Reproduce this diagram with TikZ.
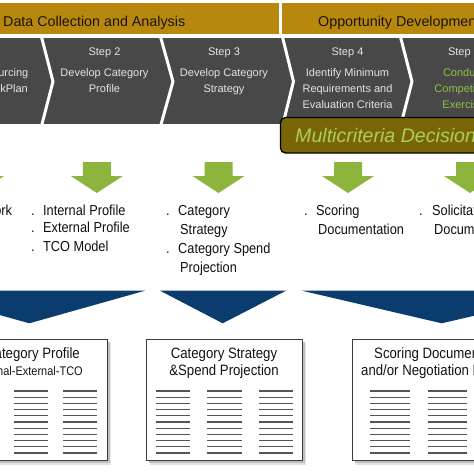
\documentclass[tikz,border=0pt]{standalone}
\usepackage{fontspec}
\setmainfont{Liberation Sans}
\newfontfamily\condfont[FakeStretch=0.88]{Liberation Sans}
\definecolor{gold}{RGB}{184,136,14}
\definecolor{chev}{RGB}{72,72,72}
\definecolor{olivebox}{RGB}{122,100,8}
\definecolor{mcgreen}{RGB}{170,208,88}
\definecolor{stepgreen}{RGB}{140,196,70}
\definecolor{agreen}{RGB}{141,180,60}
\definecolor{navy}{RGB}{10,61,110}
\definecolor{steptext}{RGB}{228,228,228}
\definecolor{docline}{RGB}{85,85,85}
\tikzset{
  bandtxt/.style={font=\fontsize{14.3}{16}\selectfont, text={rgb,255:red,25;green,20;blue,10}, inner sep=0, anchor=base west},
  steptxt/.style={font=\fontsize{11}{13}\selectfont, text=steptext, inner sep=0, anchor=base},
  stepgtxt/.style={steptxt, text=stepgreen},
  divider/.style={white, line width=3pt, line join=miter},
  greenarrow/.style={fill=agreen},
  bultxt/.style={font=\condfont\fontsize{14.5}{17}\selectfont, text={rgb,255:red,15;green,15;blue,15}, inner sep=0, anchor=base west},
  titletxt/.style={font=\condfont\fontsize{15}{17}\selectfont, text={rgb,255:red,20;green,20;blue,20}, inner sep=0, anchor=base},
  subtitletxt/.style={font=\condfont\fontsize{12.5}{14}\selectfont, text={rgb,255:red,20;green,20;blue,20}, inner sep=0, anchor=base},
  docbox/.style={fill=white, draw={rgb,255:red,60;green,60;blue,60}, line width=1pt},
  docln/.style={draw=docline, line width=1.3pt},
  mctxt/.style={font=\itshape\fontsize{19.6}{21}\selectfont, text=mcgreen, inner sep=0, anchor=base west}
}
\begin{document}
\begin{tikzpicture}[x=1pt,y=-1pt]
\useasboundingbox (0,0) rectangle (474,474);
\clip (0,0) rectangle (474,474);
\fill[white] (0,0) rectangle (474,474);

% phase bands
\fill[gold] (-5,3) rectangle (278.5,34);
\fill[gold] (281.5,3) rectangle (480,34);
\node[bandtxt] (dca) at (3,26.5) {Data Collection and Analysis};
\node[bandtxt] (opd) at (318,26.5) {Opportunity Development};

% step chevrons
\fill[chev] (-5,38) rectangle (480,124);
\foreach \a/\b in {41/53,160/173,282/293.5,400/412}
  \draw[divider] (\a,35) -- (\b,81.5) -- (\a,128);

% step 1 (partial)
\node[steptxt, anchor=base east] (s1a) at (28.5,76.8) {Sourcing};
\node[steptxt, anchor=base east] (s1b) at (28,92.5) {WorkPlan};
% step 2
\node[steptxt] (s2) at (104.5,55) {Step 2};
\node[steptxt] (s2a) at (104.5,76.8) {Develop Category};
\node[steptxt] (s2b) at (104.5,92.2) {Profile};
% step 3
\node[steptxt] (s3) at (224,55) {Step 3};
\node[steptxt] (s3a) at (224,76.8) {Develop Category};
\node[steptxt] (s3b) at (224,92.2) {Strategy};
% step 4
\node[steptxt] (s4) at (347.5,55) {Step 4};
\node[steptxt] (s4a) at (347.5,76.8) {Identify Minimum};
\node[steptxt] (s4b) at (347.5,92.6) {Requirements and};
\node[steptxt] (s4c) at (347.5,108.3) {Evaluation Criteria};
% step 5
\node[steptxt] (s5) at (464,55) {Step 5};
\node[stepgtxt] (s5a) at (463.5,76.8) {Conduct};
\node[stepgtxt] (s5b) at (463.5,92.6) {Competitive};
\node[stepgtxt] (s5c) at (463.5,108.3) {Exercise};

% multicriteria box
\draw[fill=olivebox, line width=1.3pt, rounded corners=5pt] (280.5,117.5) rectangle (540,153);
\node[mctxt] (mc) at (295,142) {Multicriteria Decision Analysis};

% green arrows
\foreach \c in {-22,96.8,218.5,348,470}
  \fill[greenarrow] (\c-14,162) -- (\c+14,162) -- (\c+14,176) -- (\c+26,176)
     -- (\c,193) -- (\c-26,176) -- (\c-14,176) -- cycle;

% deliverables
\node[bultxt, anchor=base east] (d1) at (12.3,215) {Framework};

\node[bultxt] (b2a) at (31,215) {.};
\node[bultxt] (t2a) at (43,215) {Internal Profile};
\node[bultxt] (b2b) at (31,232.5) {.};
\node[bultxt] (t2b) at (43,232.5) {External Profile};
\node[bultxt] (b2c) at (31,251) {.};
\node[bultxt] (t2c) at (43,251) {TCO Model};

\node[bultxt] (b3a) at (166,215) {.};
\node[bultxt] (t3a) at (178,215) {Category};
\node[bultxt] (t3b) at (180,234) {Strategy};
\node[bultxt] (b3c) at (166,253) {.};
\node[bultxt] (t3c) at (178,253) {Category Spend};
\node[bultxt] (t3d) at (180,272) {Projection};

\node[bultxt] (b4a) at (304,215) {.};
\node[bultxt] (t4a) at (316,215) {Scoring};
\node[bultxt] (t4b) at (318,234) {Documentation};

\node[bultxt] (b5a) at (419,215) {.};
\node[bultxt] (t5a) at (432,215) {Solicitation};
\node[bultxt] (t5b) at (434,234) {Documents};

% blue chevrons
\fill[navy] (-87,290.7) -- (145,290.7) -- (29.3,323.3) -- cycle;
\fill[navy] (160,290.7) -- (286,290.7) -- (222.7,323.3) -- cycle;
\fill[navy] (302,290.7) -- (582,290.7) -- (441.7,323.3) -- cycle;

% document boxes
\foreach \l/\r in {-49/107,146/302,352/500}{
  \fill[gray!22] (\l+4,343) rectangle (\r+4,464.5);
  \fill[gray!50] (\l+2.5,341.5) rectangle (\r+2.5,462.5);
  \draw[docbox] (\l,339) rectangle (\r,460);
}
\foreach \a/\b in {14/48,63/97,156/190,207/242,259/293,370/410,428/467}
  \foreach \k in {0,...,10}
    \draw[docln] (\a,391+6.2*\k) -- (\b,391+6.2*\k);

\node[titletxt, anchor=base east] (p1a) at (80,358.5) {Category Profile};
\node[subtitletxt, anchor=base east] (p1b) at (83,375) {Internal-External-TCO};
\node[titletxt] (p2a) at (224,358.5) {Category Strategy};
\node[titletxt] (p2b) at (224,375.5) {\&Spend Projection};
\node[titletxt, anchor=base west] (p3a) at (374,358.5) {Scoring Documentation};
\node[titletxt, anchor=base west] (p3b) at (361,375.5) {and/or Negotiation Plan};
\end{tikzpicture}
\end{document}
